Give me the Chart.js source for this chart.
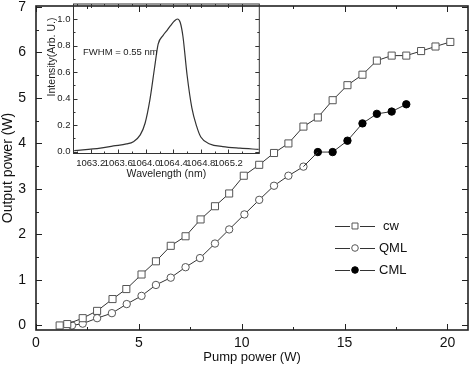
<!DOCTYPE html>
<html><head><meta charset="utf-8">
<script src="https://cdn.jsdelivr.net/npm/chart.js@4/dist/chart.umd.min.js"></script>
<style>
html,body{margin:0;padding:0;background:#fff;}
#wrap{position:relative;width:474px;height:365px;overflow:hidden;}
canvas{position:absolute;left:0;top:0;}
</style></head><body>
<div id="wrap">
<canvas id="main" width="474" height="365" style="width:474px;height:365px"></canvas>
<canvas id="inset" width="270" height="185" style="width:270px;height:185px"></canvas>
</div>
<script>
// ---------- main chart data ----------
const pumpCw = [1.15,1.52,2.27,2.97,3.72,4.39,5.13,5.83,6.55,7.27,8.0,8.70,9.39,10.1,10.85,11.57,12.27,13.0,13.7,14.42,15.14,15.87,16.57,17.29,18.0,18.72,19.42,20.14];
const powerCw = [0.0,0.03,0.16,0.32,0.58,0.80,1.12,1.41,1.75,1.96,2.33,2.62,2.90,3.29,3.53,3.79,4.0,4.37,4.57,4.95,5.28,5.51,5.82,5.93,5.93,6.03,6.13,6.23];
const pumpQml = [1.75,2.27,2.97,3.69,4.41,5.13,5.83,6.55,7.27,7.97,8.70,9.39,10.13,10.85,11.57,12.27,13.0];
const powerQml = [0.0,0.04,0.16,0.27,0.47,0.65,0.89,1.05,1.28,1.48,1.80,2.11,2.44,2.76,3.07,3.29,3.49];
const pumpCml = [13.7,14.42,15.14,15.87,16.57,17.29,18.0];
const powerCml = [3.81,3.81,4.06,4.44,4.65,4.70,4.86];
const xTickLabels = [0,5,10,15,20];
const xMinorTicks = [2.5,7.5,12.5,17.5];
const yTickLabels = [0,1,2,3,4,5,6,7];
const yMinorTicks = [0.5,1.5,2.5,3.5,4.5,5.5,6.5];

// ---------- inset data ----------
const wavelength = [1062.96,1063.34,1063.53,1063.72,1063.82,1063.92,1063.99,1064.06,1064.13,1064.18,1064.25,1064.31,1064.36,1064.41,1064.46,1064.50,1064.54,1064.60,1064.67,1064.74,1064.80,1064.93,1065.12,1065.37,1065.64];
const intensity = [0.008,0.026,0.043,0.058,0.075,0.126,0.214,0.39,0.64,0.81,0.875,0.915,0.95,0.982,1.0,0.975,0.87,0.58,0.33,0.19,0.11,0.058,0.038,0.026,0.017];
const wlTickLabels = [1063.2,1063.6,1064.0,1064.4,1064.8,1065.2];
const wlMinorTicks = [1063.0,1063.4,1063.8,1064.2,1064.6,1065.0,1065.4];
const intTickLabels = [0.0,0.2,0.4,0.6,0.8,1.0];
const intMinorTicks = [0.1,0.3,0.5,0.7,0.9];

const FONT = "'Liberation Sans', Arial, sans-serif";
const pts = (xs, ys) => xs.map((v, i) => ({x: v, y: ys[i]}));

function frameTicks(id, o) {
  return {
    id: id,
    afterDraw(chart) {
      const {ctx, chartArea: a, scales: {x, y}} = chart;
      ctx.save();
      ctx.strokeStyle = o.color;
      ctx.lineWidth = o.tickWidth;
      ctx.beginPath();
      const vx = (vals, len) => vals.forEach(v => {
        const p = Math.round(x.getPixelForValue(v)) + 0.5;
        ctx.moveTo(p, a.bottom); ctx.lineTo(p, a.bottom - len);
        ctx.moveTo(p, a.top); ctx.lineTo(p, a.top + len);
      });
      const vy = (vals, len) => vals.forEach(v => {
        const p = Math.round(y.getPixelForValue(v)) + 0.5;
        ctx.moveTo(a.left, p); ctx.lineTo(a.left + len, p);
        ctx.moveTo(a.right, p); ctx.lineTo(a.right - len, p);
      });
      vx(o.xMajor, o.major); vx(o.xMinor, o.minor);
      vy(o.yMajor, o.major); vy(o.yMinor, o.minor);
      ctx.stroke();
      ctx.lineWidth = o.frameWidth;
      ctx.strokeRect(a.left, a.top, a.right - a.left, a.bottom - a.top);
      ctx.restore();
    }
  };
}

const legendPlugin = {
  id: 'inlegend',
  afterDraw(chart) {
    const ctx = chart.ctx;
    const rows = [226, 248, 270];
    const items = chart.data.datasets.filter(d => d.label);
    ctx.save();
    items.forEach((d, i) => {
      const yy = rows[i];
      ctx.strokeStyle = '#333'; ctx.lineWidth = 1;
      ctx.beginPath();
      ctx.moveTo(335, yy + 0.5); ctx.lineTo(350, yy + 0.5);
      ctx.moveTo(360, yy + 0.5); ctx.lineTo(375, yy + 0.5);
      ctx.stroke();
      ctx.fillStyle = d.pointBackgroundColor;
      ctx.strokeStyle = d.pointBorderColor;
      ctx.lineWidth = 1;
      Chart.helpers.drawPoint(ctx, {pointStyle: d.pointStyle, radius: d.pointStyle === 'rect' ? 4.2 : 3.3, borderWidth: 1, rotation: 0}, 355, yy);
      ctx.fillStyle = '#111';
      ctx.font = '13px ' + FONT;
      ctx.textBaseline = 'middle';
      ctx.fillText(d.label, d.label === 'cw' ? 383 : 379, yy);
    });
    ctx.restore();
  }
};

const fixPad = s => { s.paddingTop = 0; s.paddingBottom = 0; s.paddingLeft = 0; s.paddingRight = 0; };

new Chart(document.getElementById('main'), {
  type: 'line',
  data: {
    datasets: [
      { data: pts([pumpQml[pumpQml.length-1], pumpCml[0]], [powerQml[powerQml.length-1], powerCml[0]]),
        borderColor: '#333', borderWidth: 1, pointRadius: 0, fill: false },
      { label: 'cw', data: pts(pumpCw, powerCw), borderColor: '#333', borderWidth: 1,
        pointStyle: 'rect', pointRadius: 5, pointBorderColor: '#555', pointBackgroundColor: '#fff', pointBorderWidth: 1 },
      { label: 'QML', data: pts(pumpQml, powerQml), borderColor: '#333', borderWidth: 1,
        pointStyle: 'circle', pointRadius: 3.7, pointBorderColor: '#555', pointBackgroundColor: '#fff', pointBorderWidth: 1 },
      { label: 'CML', data: pts(pumpCml, powerCml), borderColor: '#333', borderWidth: 1,
        pointStyle: 'circle', pointRadius: 3.7, pointBorderColor: '#000', pointBackgroundColor: '#000', pointBorderWidth: 1 }
    ]
  },
  options: {
    responsive: false, animation: false, devicePixelRatio: 1,
    layout: { padding: { top: 4, right: 2, left: 0, bottom: 0 } },
    plugins: { legend: { display: false }, tooltip: { enabled: false } },
    elements: { line: { tension: 0 } },
    scales: {
      x: {
        type: 'linear', min: 0, max: 21,
        afterBuildTicks: s => { s.ticks = xTickLabels.map(v => ({value: v})); },
        afterFit: s => { s.height = 35; fixPad(s); },
        grid: { display: false, drawTicks: false }, border: { display: false },
        ticks: { color: '#111', font: { family: FONT, size: 14 }, padding: 5, maxRotation: 0 },
        title: { display: true, text: 'Pump power (W)', color: '#111', font: { family: FONT, size: 13 }, padding: { top: 0, bottom: 0 } }
      },
      y: {
        type: 'linear', min: -0.1, max: 7.02,
        afterBuildTicks: s => { s.ticks = yTickLabels.map(v => ({value: v})); },
        afterFit: s => { s.width = 36; fixPad(s); },
        grid: { display: false, drawTicks: false }, border: { display: false },
        ticks: { color: '#111', font: { family: FONT, size: 14 }, padding: 10 },
        title: { display: true, text: 'Output power (W)', color: '#111', font: { family: FONT, size: 14 }, padding: { top: 0, bottom: 0 } }
      }
    }
  },
  plugins: [frameTicks('mainframe', { color: '#222', tickWidth: 1, frameWidth: 1.6, major: 6, minor: 3,
    xMajor: xTickLabels, xMinor: xMinorTicks, yMajor: yTickLabels, yMinor: yMinorTicks }), legendPlugin]
});

const insetText = {
  id: 'insettext',
  afterDraw(chart) {
    const ctx = chart.ctx;
    ctx.save();
    ctx.fillStyle = '#222';
    ctx.font = '9.5px ' + FONT;
    ctx.textBaseline = 'middle';
    ctx.fillText('FWHM = 0.55 nm', 83, 52.5);
    ctx.translate(52, 57);
    ctx.rotate(-Math.PI / 2);
    ctx.textAlign = 'center';
    ctx.font = '10.5px ' + FONT;
    ctx.fillText('Intensity(Arb. U.)', 0, 0);
    ctx.restore();
  }
};

new Chart(document.getElementById('inset'), {
  type: 'line',
  data: {
    datasets: [{ data: pts(wavelength, intensity), borderColor: '#333', borderWidth: 1.2, pointRadius: 0,
      cubicInterpolationMode: 'monotone', fill: false }]
  },
  options: {
    responsive: false, animation: false, devicePixelRatio: 1,
    layout: { padding: { top: 4, right: 10.7, left: 0, bottom: 0 } },
    plugins: { legend: { display: false }, tooltip: { enabled: false } },
    scales: {
      x: {
        type: 'linear', min: 1062.95, max: 1065.65,
        afterBuildTicks: s => { s.ticks = wlTickLabels.map(v => ({value: v})); },
        afterFit: s => { s.height = 31.5; fixPad(s); },
        grid: { display: false, drawTicks: false }, border: { display: false },
        ticks: { color: '#222', font: { family: FONT, size: 9.5 }, padding: 4, maxRotation: 0, autoSkip: false,
          callback: v => v.toFixed(1) },
        title: { display: true, text: 'Wavelength (nm)', color: '#222', font: { family: FONT, size: 10.5 }, padding: { top: 0, bottom: 5 } }
      },
      y: {
        type: 'linear', min: -0.014, max: 1.113,
        afterBuildTicks: s => { s.ticks = intTickLabels.map(v => ({value: v})); },
        afterFit: s => { s.width = 73.5; fixPad(s); },
        grid: { display: false, drawTicks: false }, border: { display: false },
        ticks: { color: '#222', font: { family: FONT, size: 9.5 }, padding: 3, callback: v => v.toFixed(1) }
      }
    }
  },
  plugins: [frameTicks('insetframe', { color: '#333', tickWidth: 1, frameWidth: 1, major: 4, minor: 2,
    xMajor: wlTickLabels, xMinor: wlMinorTicks, yMajor: intTickLabels, yMinor: intMinorTicks }), insetText]
});
</script>
</body></html>
